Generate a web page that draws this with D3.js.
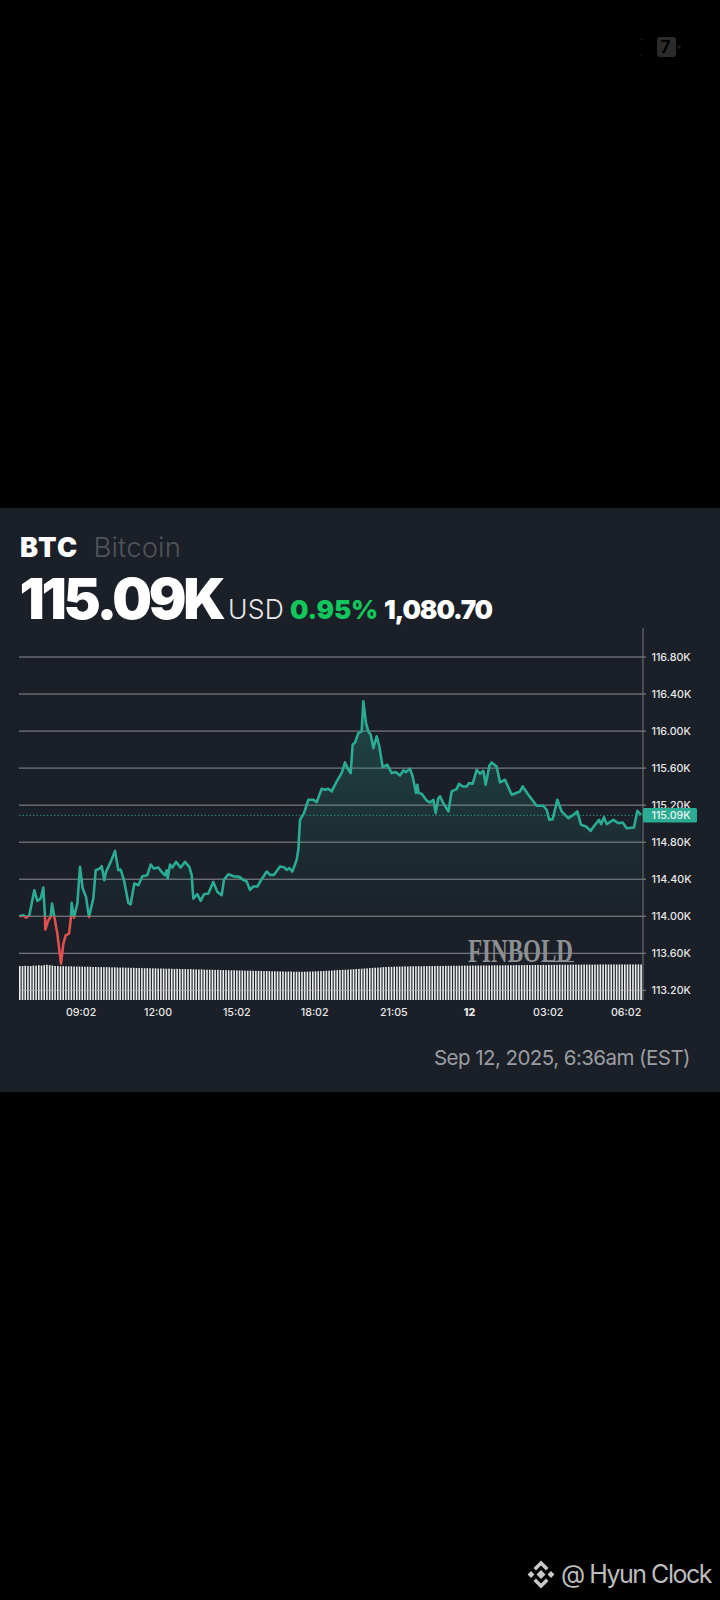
<!DOCTYPE html>
<html><head><meta charset="utf-8">
<script src="https://cdn.jsdelivr.net/npm/d3@7/dist/d3.min.js"></script>
<style>html,body{margin:0;padding:0;background:#000}svg{display:block}text{font-family:Inter,sans-serif}</style>
</head><body><div id="c"></div>
<script>
const hours=[6.659,6.826,6.929,7.057,7.25,7.366,7.494,7.597,7.661,7.674,7.79,7.88,7.931,8.021,8.136,8.278,8.368,8.458,8.586,8.663,8.689,8.779,8.907,9.01,9.113,9.241,9.357,9.524,9.614,9.781,9.845,9.948,10.012,10.192,10.359,10.487,10.577,10.705,10.872,10.962,11.103,11.258,11.412,11.605,11.733,11.861,12.028,12.157,12.285,12.35,12.388,12.478,12.568,12.709,12.889,13.056,13.223,13.313,13.377,13.531,13.66,13.788,13.955,14.148,14.302,14.469,14.559,14.726,14.919,15.15,15.304,15.433,15.561,15.69,15.844,16.011,16.204,16.332,16.486,16.717,16.871,16.974,17.077,17.193,17.36,17.424,17.488,17.642,17.809,18.001,18.13,18.323,18.451,18.58,18.708,18.901,19.093,19.222,19.35,19.44,19.517,19.607,19.736,19.864,19.928,20.031,20.121,20.211,20.314,20.442,20.545,20.673,20.853,21.02,21.174,21.341,21.47,21.572,21.727,21.829,21.958,22.009,22.06,22.176,22.369,22.497,22.626,22.716,22.818,22.883,23.011,23.204,23.332,23.525,23.615,23.756,23.91,24.0,24.141,24.296,24.424,24.553,24.643,24.784,24.874,25.066,25.195,25.388,25.644,25.965,26.068,26.287,26.608,26.865,26.993,27.096,27.224,27.404,27.571,27.828,28.021,28.175,28.316,28.509,28.689,28.856,29.01,29.087,29.202,29.305,29.562,29.755,29.922,30.076,30.358,30.487,30.628];
const prices=[114.0,114.01,113.985,114.01,114.281,114.166,114.191,114.31,113.993,113.856,113.957,113.993,114.137,113.993,113.812,113.488,113.704,113.794,113.812,113.993,114.144,113.985,114.137,114.533,114.299,114.209,113.993,114.191,114.497,114.515,114.54,114.389,114.479,114.587,114.706,114.497,114.504,114.389,114.144,114.129,114.353,114.335,114.432,114.443,114.558,114.515,114.526,114.479,114.443,114.497,114.407,114.558,114.526,114.587,114.526,114.587,114.533,114.443,114.191,114.238,114.166,114.238,114.245,114.371,114.263,114.227,114.396,114.454,114.432,114.425,114.393,114.375,114.285,114.321,114.321,114.4,114.483,114.447,114.447,114.537,114.53,114.501,114.519,114.483,114.609,114.72,115.041,115.114,115.258,115.258,115.232,115.377,115.366,115.377,115.348,115.456,115.546,115.661,115.582,115.546,115.852,115.877,115.978,115.996,116.321,116.086,115.996,115.96,115.816,115.942,115.834,115.611,115.636,115.546,115.557,115.521,115.575,115.557,115.593,115.51,115.33,115.42,115.33,115.323,115.25,115.229,115.258,115.114,115.276,115.294,115.222,115.132,115.348,115.373,115.431,115.402,115.402,115.438,115.431,115.582,115.539,115.571,115.42,115.625,115.661,115.618,115.445,115.474,115.312,115.348,115.402,115.312,115.193,115.193,115.15,115.041,115.049,115.258,115.132,115.059,115.095,115.132,114.987,114.969,114.923,114.987,115.041,114.995,115.07,114.995,115.041,115.005,115.013,114.951,114.959,115.139,115.095];
const volumes=[34,34,34.2,34,34,34.4,34.3,34.8,34.4,34.9,35.2,34.9,34.4,34,33.9,33.8,33.8,33.7,33.6,33.7,33.5,33.4,33.5,33.3,33.2,33.3,33.2,33,33.1,32.9,32.9,32.8,32.9,32.7,32.6,32.7,32.5,32.4,32.5,32.3,32.3,32.2,32.2,32,32.1,31.9,31.8,31.9,31.7,31.6,31.7,31.5,31.5,31.4,31.3,31.4,31.2,31.1,31.2,31,31,30.9,30.8,30.9,30.7,30.6,30.5,30.6,30.4,30.3,30.3,30.2,30.1,30.2,30,29.9,29.9,29.8,29.7,29.8,29.6,29.5,29.5,29.4,29.3,29.4,29.2,29.1,29.1,29,28.9,29,28.8,28.7,28.7,28.6,28.6,28.5,28.4,28.5,28.4,28.3,28.3,28.2,28.2,28.3,28.4,28.5,28.5,28.7,28.8,28.9,29,29.2,29.3,29.5,29.7,29.8,30,30.2,30.3,30.4,30.6,30.8,31,31.1,31.3,31.5,31.6,31.9,32.1,32.3,32.4,32.6,32.9,33,33.2,33.1,33.3,33.4,33.4,33.5,33.6,33.5,33.7,33.7,33.8,33.8,33.7,33.9,33.9,34,33.9,34,34.1,34,34.1,34.2,34.1,34.2,34.3,34.2,34.3,34.3,34.4,34.3,34.4,34.5,34.4,34.5,34.5,34.6,34.5,34.6,34.6,34.7,34.6,34.7,34.7,34.8,34.7,34.8,34.8,34.9,34.8,34.9,34.9,35,34.9,35,35,35.1,35,35.1,35,35.2,35.1,35.2,35.2,35.3,35.2,35.3,35.2,35.4,35.3,35.4,35.3,35.4,35.5,35.4,35.5,35.4,35.5,35.5,35.6,35.5,35.6,35.5,35.6,35.6,35.5,35.6,35.6,35.5,35.6,35.6,35.5,35.6,35.6,35.5];
const yTicks=[116.8,116.4,116.0,115.6,115.2,114.8,114.4,114.0,113.6,113.2];
const xTicks=[9.033,12,15.033,18.033,21.083,24,27.033,30.033];
const xLabels=["09:02","12:00","15:02","18:02","21:05","12","03:02","06:02"];
const basePrice=114.0, lastPrice=115.09;
const ticker="BTC", coinName="Bitcoin", priceText="115.09K", unit="USD", pct="0.95%", change="1,080.70";
const dateText="Sep 12, 2025, 6:36am (EST)", credit="@ Hyun Clock", brand="FINBOLD";

const svg=d3.select("#c").append("svg").attr("width",720).attr("height",1600);
const W=720;
const gridL=19, axisX=643;
const x=d3.scaleLinear().domain([hours[0],hours[hours.length-1]]).range([19,641]);
const y=d3.scaleLinear().domain([113.2,116.8]).range([990.3,657]);
const vol=d3.scaleLinear().domain([0,36]).range([1000,964]);
const band=d3.scaleBand().domain(d3.range(volumes.length)).range([19,643]);

svg.append("rect").attr("x",0).attr("y",508).attr("width",W).attr("height",584).attr("fill","#1b1f27");

const defs=svg.append("defs");
const gr=defs.append("linearGradient").attr("id","af").attr("gradientUnits","userSpaceOnUse").attr("x1",0).attr("x2",0).attr("y1",y(116.3)).attr("y2",y(basePrice));
gr.append("stop").attr("offset",0).attr("stop-color","#2bab94").attr("stop-opacity",.28);
gr.append("stop").attr("offset",.55).attr("stop-color","#2bab94").attr("stop-opacity",.13);
gr.append("stop").attr("offset",1).attr("stop-color","#2bab94").attr("stop-opacity",.01);
defs.append("clipPath").attr("id","up").append("rect").attr("x",0).attr("y",600).attr("width",W).attr("height",y(basePrice)-600);
defs.append("clipPath").attr("id","dn").append("rect").attr("x",0).attr("y",y(basePrice)).attr("width",W).attr("height",100);

// volume bars
svg.append("g").selectAll("rect").data(volumes).join("rect")
 .attr("x",(d,i)=>band(i)).attr("width",1.6).attr("y",d=>vol(d)).attr("height",d=>vol(0)-vol(d))
 .attr("fill","#ffffff").attr("opacity",.92);

// y axis & grid
const yAxis=d3.axisRight(y).tickValues(yTicks).tickSize(0).tickPadding(0).tickFormat(d=>d.toFixed(2)+"K");
const gy=svg.append("g").attr("transform",`translate(651.5,0)`).call(yAxis);
gy.select(".domain").remove();
gy.selectAll("text").attr("fill","#e8e9ea").attr("font-size",10.7).attr("font-weight",500).attr("dy","0.34em");
svg.append("g").selectAll("line").data(yTicks).join("line")
 .attr("x1",gridL).attr("x2",axisX+3).attr("y1",d=>y(d)).attr("y2",d=>y(d))
 .attr("stroke","#b4b6b8").attr("stroke-opacity",.75).attr("stroke-width",1);
svg.append("line").attr("x1",axisX).attr("x2",axisX).attr("y1",628).attr("y2",1000).attr("stroke","#76797d").attr("stroke-width",1);

// x axis
const xAxis=d3.axisBottom(x).tickValues(xTicks).tickSize(0).tickPadding(0).tickFormat((d,i)=>xLabels[i]);
const gx=svg.append("g").attr("transform","translate(0,1008)").call(xAxis);
gx.select(".domain").remove();
gx.selectAll("text").attr("fill","#e8e9ea").attr("font-size",10.7).attr("font-weight",(d,i)=>xLabels[i]==="12"?800:500).attr("dy","0.72em");

// brand watermark
svg.append("text").text(brand).attr("x",468).attr("y",961.5).attr("textLength",105).attr("lengthAdjust","spacingAndGlyphs")
 .attr("font-size",33).attr("font-weight",700).style("font-family","'Liberation Serif',serif").attr("fill","#8d8f92");
svg.append("line").attr("x1",548).attr("x2",574).attr("y1",961.5).attr("y2",961.5).attr("stroke","#8d8f92").attr("stroke-width",1.2);

// area and line
const idx=hours.map((h,i)=>i);
const area=d3.area().x(i=>x(hours[i])).y0(y(basePrice)).y1(i=>y(prices[i]));
const line=d3.line().x(i=>x(hours[i])).y(i=>y(prices[i]));
svg.append("path").attr("d",area(idx)).attr("fill","url(#af)").attr("clip-path","url(#up)");
svg.append("path").attr("d",line(idx)).attr("fill","none").attr("stroke","#2bab94").attr("stroke-width",2.6).attr("stroke-linejoin","round").attr("clip-path","url(#up)");
svg.append("path").attr("d",line(idx)).attr("fill","none").attr("stroke","#e0504f").attr("stroke-width",2.6).attr("stroke-linejoin","round").attr("clip-path","url(#dn)");

// last price line & tag
svg.append("line").attr("x1",gridL).attr("x2",axisX).attr("y1",y(lastPrice)).attr("y2",y(lastPrice))
 .attr("stroke","#2bab94").attr("stroke-width",1).attr("stroke-dasharray","1.5 2").attr("opacity",.8);
svg.append("rect").attr("x",643).attr("y",y(lastPrice)-7.2).attr("width",54).attr("height",14.5).attr("rx",1.5).attr("fill","#2bab94");
svg.append("text").text(lastPrice.toFixed(2)+"K").attr("x",651.5).attr("y",y(lastPrice)).attr("dy","0.35em").attr("font-size",10.7).attr("font-weight",500).attr("fill","#e9f5f2");

// header: letter-spacing is fitted so each text spans its measured width
const T=(s,xx,yy,fs,fw,c,len)=>{const t=svg.append("text").text(s).attr("x",xx).attr("y",yy).attr("font-size",fs).attr("font-weight",fw).attr("fill",c);
 if(len){const n=t.node().getComputedTextLength();t.attr("letter-spacing",(len-n)/s.length);}return t;};
T(ticker,20,557,27,900,"#ffffff",58.5);
T(coinName,93.5,557,27.5,300,"#50545a",87.5);
T(priceText,19.5,619,56,900,"#ffffff",203);
T(unit,228,619,26.5,300,"#e8e8e8",56);
T(pct,290,619,26,900,"#12c55c",88);
T(change,384,619,26,900,"#ffffff",108);
T(dateText,434,1065,20.5,400,"#9a9da1",256);

// credit
T(credit,561,1583,25,400,"#bdbdbd",150);
const ic=svg.append("g").attr("transform","translate(541,1574.5)").attr("fill","#c9c9c9");
const dia=(cx,cy,r)=>ic.append("path").attr("d",`M${cx} ${cy-r}L${cx+r} ${cy}L${cx} ${cy+r}L${cx-r} ${cy}Z`);
dia(0,0,4.5);dia(-10,0,3.4);dia(10,0,3.4);
const chev=s=>ic.append("path").attr("d",`M0 ${s*14}L${7.5} ${s*6.5}L${5} ${s*4}L0 ${s*9}L-5 ${s*4}L-7.5 ${s*6.5}Z`);
chev(-1);chev(1);

// status icon
svg.append("rect").attr("x",657).attr("y",37).attr("width",19).attr("height",20).attr("rx",3).attr("fill","#2b2b2b");
T("7",660.5,53,17,700,"#000000");
svg.append("circle").attr("cx",679).attr("cy",47).attr("r",1.8).attr("fill","#1a1a1a");
svg.append("circle").attr("cx",641.5).attr("cy",39.5).attr("r",.8).attr("fill","#2a2a2a");
svg.append("circle").attr("cx",641.5).attr("cy",55).attr("r",.8).attr("fill","#2a2a2a");
</script></body></html>
